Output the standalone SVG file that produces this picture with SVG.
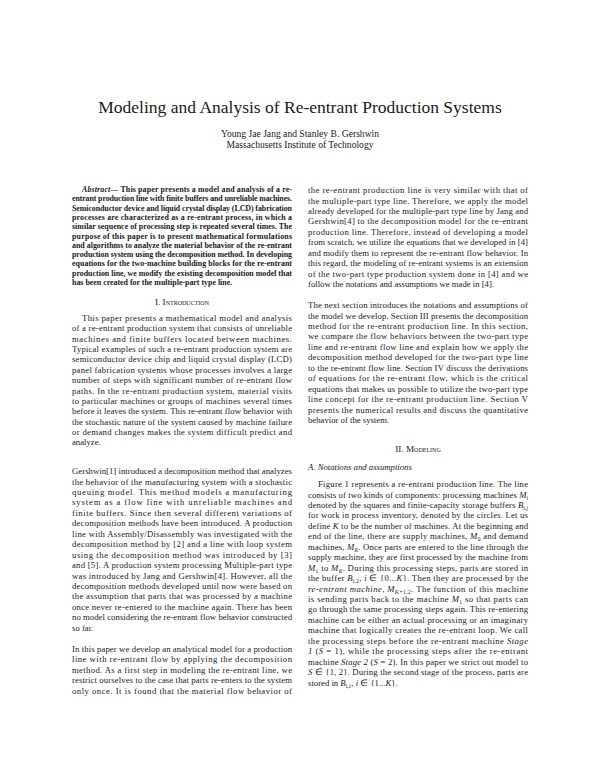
<svg xmlns="http://www.w3.org/2000/svg" width="600" height="776" viewBox="0 0 600 776">
<style>
text{font-family:"Liberation Serif","Times New Roman",serif;fill:#1a1a1a}
.t{font-size:17.5px}
.au{font-size:9.6px}
.a{font-size:7.9px;font-weight:bold}
.b{font-size:8.7px}
.h{font-size:9.2px;font-variant:small-caps}
.i{font-style:italic}
.s{font-size:5.5px}
</style>
<rect width="600" height="776" fill="#fff"/>
<g id="header">
<text class="t" x="300" y="113" text-anchor="middle">Modeling and Analysis of Re-entrant Production Systems</text>
<text class="au" x="300" y="137" text-anchor="middle">Young Jae Jang and Stanley B. Gershwin</text>
<text class="au" x="300" y="148" text-anchor="middle">Massachusetts Institute of Technology</text>
</g>
<g id="abstract" class="a">
<text x="82" y="192" textLength="210" lengthAdjust="spacing"><tspan class="i">Abstract</tspan>— This paper presents a model and analysis of a re-</text>
<text x="72" y="201.3" textLength="220" lengthAdjust="spacing">entrant production line with finite buffers and unreliable machines.</text>
<text x="72" y="210.6" textLength="220" lengthAdjust="spacing">Semiconductor device and liquid crystal display (LCD) fabrication</text>
<text x="72" y="219.9" textLength="220" lengthAdjust="spacing">processes are characterized as a re-entrant process, in which a</text>
<text x="72" y="229.2" textLength="220" lengthAdjust="spacing">similar sequence of processing step is repeated several times. The</text>
<text x="72" y="238.5" textLength="220" lengthAdjust="spacing">purpose of this paper is to present mathematical formulations</text>
<text x="72" y="247.8" textLength="220" lengthAdjust="spacing">and algorithms to analyze the material behavior of the re-entrant</text>
<text x="72" y="257.1" textLength="220" lengthAdjust="spacing">production system using the decomposition method. In developing</text>
<text x="72" y="266.4" textLength="220" lengthAdjust="spacing">equations for the two-machine building blocks for the re-entrant</text>
<text x="72" y="275.7" textLength="220" lengthAdjust="spacing">production line, we modify the existing decomposition model that</text>
<text x="72" y="285">has been created for the multiple-part type line.</text>
</g>
<g id="intro" class="b">
<text class="h" x="182" y="305" text-anchor="middle">I. Introduction</text>
<text x="82" y="321" textLength="210" lengthAdjust="spacing">This paper presents a mathematical model and analysis</text>
<text x="72" y="331.4" textLength="220" lengthAdjust="spacing">of a re-entrant production system that consists of unreliable</text>
<text x="72" y="341.7" textLength="220" lengthAdjust="spacing">machines and finite buffers located between machines.</text>
<text x="72" y="352.1" textLength="220" lengthAdjust="spacing">Typical examples of such a re-entrant production system are</text>
<text x="72" y="362.4" textLength="220" lengthAdjust="spacing">semiconductor device chip and liquid crystal display (LCD)</text>
<text x="72" y="372.8" textLength="220" lengthAdjust="spacing">panel fabrication systems whose processes involves a large</text>
<text x="72" y="383.1" textLength="220" lengthAdjust="spacing">number of steps with significant number of re-entrant flow</text>
<text x="72" y="393.5" textLength="220" lengthAdjust="spacing">paths. In the re-entrant production system, material visits</text>
<text x="72" y="403.8" textLength="220" lengthAdjust="spacing">to particular machines or groups of machines several times</text>
<text x="72" y="414.2" textLength="220" lengthAdjust="spacing">before it leaves the system. This re-entrant flow behavior with</text>
<text x="72" y="424.5" textLength="220" lengthAdjust="spacing">the stochastic nature of the system caused by machine failure</text>
<text x="72" y="434.9" textLength="220" lengthAdjust="spacing">or demand changes makes the system difficult predict and</text>
<text x="72" y="445.2">analyze.</text>
<text x="72" y="474" textLength="220" lengthAdjust="spacing">Gershwin[1] introduced a decomposition method that analyzes</text>
<text x="72" y="484.5" textLength="220" lengthAdjust="spacing">the behavior of the manufacturing system with a stochastic</text>
<text x="72" y="494.9" textLength="220" lengthAdjust="spacing">queuing model. This method models a manufacturing</text>
<text x="72" y="505.4" textLength="220" lengthAdjust="spacing">system as a flow line with unreliable machines and</text>
<text x="72" y="515.8" textLength="220" lengthAdjust="spacing">finite buffers. Since then several different variations of</text>
<text x="72" y="526.3" textLength="220" lengthAdjust="spacing">decomposition methods have been introduced. A production</text>
<text x="72" y="536.7" textLength="220" lengthAdjust="spacing">line with Assembly/Disassembly was investigated with the</text>
<text x="72" y="547.2" textLength="220" lengthAdjust="spacing">decomposition method by [2] and a line with loop system</text>
<text x="72" y="557.6" textLength="220" lengthAdjust="spacing">using the decomposition method was introduced by [3]</text>
<text x="72" y="568.1" textLength="220" lengthAdjust="spacing">and [5]. A production system processing Multiple-part type</text>
<text x="72" y="578.5" textLength="220" lengthAdjust="spacing">was introduced by Jang and Gershwin[4]. However, all the</text>
<text x="72" y="589" textLength="220" lengthAdjust="spacing">decomposition methods developed until now were based on</text>
<text x="72" y="599.4" textLength="220" lengthAdjust="spacing">the assumption that parts that was processed by a machine</text>
<text x="72" y="609.9" textLength="220" lengthAdjust="spacing">once never re-entered to the machine again. There has been</text>
<text x="72" y="620.3" textLength="220" lengthAdjust="spacing">no model considering the re-entrant flow behavior constructed</text>
<text x="72" y="630.8">so far.</text>
<text x="72" y="652" textLength="220" lengthAdjust="spacing">In this paper we develop an analytical model for a production</text>
<text x="72" y="662.4" textLength="220" lengthAdjust="spacing">line with re-entrant flow by applying the decomposition</text>
<text x="72" y="672.8" textLength="220" lengthAdjust="spacing">method. As a first step in modeling the re-entrant line, we</text>
<text x="72" y="683.2" textLength="220" lengthAdjust="spacing">restrict ourselves to the case that parts re-enters to the system</text>
<text x="72" y="693.6" textLength="220" lengthAdjust="spacing">only once. It is found that the material flow behavior of</text>
</g>
<g id="right" class="b">
<text x="308" y="193" textLength="220" lengthAdjust="spacing">the re-entrant production line is very similar with that of</text>
<text x="308" y="203.5" textLength="220" lengthAdjust="spacing">the multiple-part type line. Therefore, we apply the model</text>
<text x="308" y="213.9" textLength="220" lengthAdjust="spacing">already developed for the multiple-part type line by Jang and</text>
<text x="308" y="224.4" textLength="220" lengthAdjust="spacing">Gershwin[4] to the decomposition model for the re-entrant</text>
<text x="308" y="234.8" textLength="220" lengthAdjust="spacing">production line. Therefore, instead of developing a model</text>
<text x="308" y="245.3" textLength="220" lengthAdjust="spacing">from scratch, we utilize the equations that we developed in [4]</text>
<text x="308" y="255.7" textLength="220" lengthAdjust="spacing">and modify them to represent the re-entrant flow behavior. In</text>
<text x="308" y="266.2" textLength="220" lengthAdjust="spacing">this regard, the modeling of re-entrant systems is an extension</text>
<text x="308" y="276.6" textLength="220" lengthAdjust="spacing">of the two-part type production system done in [4] and we</text>
<text x="308" y="287">follow the notations and assumptions we made in [4].</text>
<text x="308" y="308" textLength="220" lengthAdjust="spacing">The next section introduces the notations and assumptions of</text>
<text x="308" y="318.5" textLength="220" lengthAdjust="spacing">the model we develop. Section III presents the decomposition</text>
<text x="308" y="328.9" textLength="220" lengthAdjust="spacing">method for the re-entrant production line. In this section,</text>
<text x="308" y="339.4" textLength="220" lengthAdjust="spacing">we compare the flow behaviors between the two-part type</text>
<text x="308" y="349.8" textLength="220" lengthAdjust="spacing">line and re-entrant flow line and explain how we apply the</text>
<text x="308" y="360.3" textLength="220" lengthAdjust="spacing">decomposition method developed for the two-part type line</text>
<text x="308" y="370.7" textLength="220" lengthAdjust="spacing">to the re-entrant flow line. Section IV discuss the derivations</text>
<text x="308" y="381.2" textLength="220" lengthAdjust="spacing">of equations for the re-entrant flow, which is the critical</text>
<text x="308" y="391.6" textLength="220" lengthAdjust="spacing">equations that makes us possible to utilize the two-part type</text>
<text x="308" y="402.1" textLength="220" lengthAdjust="spacing">line concept for the re-entrant production line. Section V</text>
<text x="308" y="412.5" textLength="220" lengthAdjust="spacing">presents the numerical results and discuss the quantitative</text>
<text x="308" y="423">behavior of the system.</text>
<text class="h" x="418" y="452" text-anchor="middle">II. Modeling</text>
<text class="i" x="308" y="470">A. Notations and assumptions</text>
<text x="318" y="487" textLength="210" lengthAdjust="spacing">Figure 1 represents a re-entrant production line. The line</text>
<text x="308" y="497.5" textLength="220" lengthAdjust="spacing">consists of two kinds of components: processing machines <tspan class="i">M</tspan><tspan class="s" baseline-shift="-2">i</tspan></text>
<text x="308" y="507.9" textLength="220" lengthAdjust="spacing">denoted by the squares and finite-capacity storage buffers <tspan class="i">B</tspan><tspan class="s i" baseline-shift="-2">i,j</tspan></text>
<text x="308" y="518.4" textLength="220" lengthAdjust="spacing">for work in process inventory, denoted by the circles. Let us</text>
<text x="308" y="528.8" textLength="220" lengthAdjust="spacing">define <tspan class="i">K</tspan> to be the number of machines. At the beginning and</text>
<text x="308" y="539.3" textLength="220" lengthAdjust="spacing">end of the line, there are supply machines, <tspan class="i">M</tspan><tspan class="s" baseline-shift="-2">0</tspan> and demand</text>
<text x="308" y="549.7" textLength="220" lengthAdjust="spacing">machines, <tspan class="i">M</tspan><tspan class="s i" baseline-shift="-2">K</tspan>. Once parts are entered to the line through the</text>
<text x="308" y="560.2" textLength="220" lengthAdjust="spacing">supply machine, they are first processed by the machine from</text>
<text x="308" y="570.6" textLength="220" lengthAdjust="spacing"><tspan class="i">M</tspan><tspan class="s" baseline-shift="-2">1</tspan> to <tspan class="i">M</tspan><tspan class="s i" baseline-shift="-2">K</tspan>. During this processing steps, parts are stored in</text>
<text x="308" y="581.1" textLength="220" lengthAdjust="spacing">the buffer <tspan class="i">B</tspan><tspan class="s" baseline-shift="-2">i,2</tspan>, <tspan class="i">i</tspan> ∈ {0...<tspan class="i">K</tspan>}. Then they are processed by the</text>
<text x="308" y="591.5" textLength="220" lengthAdjust="spacing"><tspan class="i">re-entrant machine</tspan>, <tspan class="i">M</tspan><tspan class="s" baseline-shift="-2">K+1,2</tspan>. The function of this machine</text>
<text x="308" y="602" textLength="220" lengthAdjust="spacing">is sending parts back to the machine <tspan class="i">M</tspan><tspan class="s" baseline-shift="-2">1</tspan> so that parts can</text>
<text x="308" y="612.4" textLength="220" lengthAdjust="spacing">go through the same processing steps again. This re-entering</text>
<text x="308" y="622.9" textLength="220" lengthAdjust="spacing">machine can be either an actual processing or an imaginary</text>
<text x="308" y="633.3" textLength="220" lengthAdjust="spacing">machine that logically creates the re-entrant loop. We call</text>
<text x="308" y="643.8" textLength="220" lengthAdjust="spacing">the processing steps before the re-entrant machine <tspan class="i">Stage</tspan></text>
<text x="308" y="654.2" textLength="220" lengthAdjust="spacing"><tspan class="i">1</tspan> (<tspan class="i">S</tspan> = 1), while the processing steps after the re-entrant</text>
<text x="308" y="664.7" textLength="220" lengthAdjust="spacing">machine <tspan class="i">Stage 2</tspan> (<tspan class="i">S</tspan> = 2). In this paper we strict out model to</text>
<text x="308" y="675.1" textLength="220" lengthAdjust="spacing"><tspan class="i">S</tspan> ∈ {1, 2}. During the second stage of the process, parts are</text>
<text x="308" y="685.6">stored in <tspan class="i">B</tspan><tspan class="s" baseline-shift="-2">i,1</tspan>, <tspan class="i">i</tspan> ∈ {1...<tspan class="i">K</tspan>}.</text>
</g>
</svg>
